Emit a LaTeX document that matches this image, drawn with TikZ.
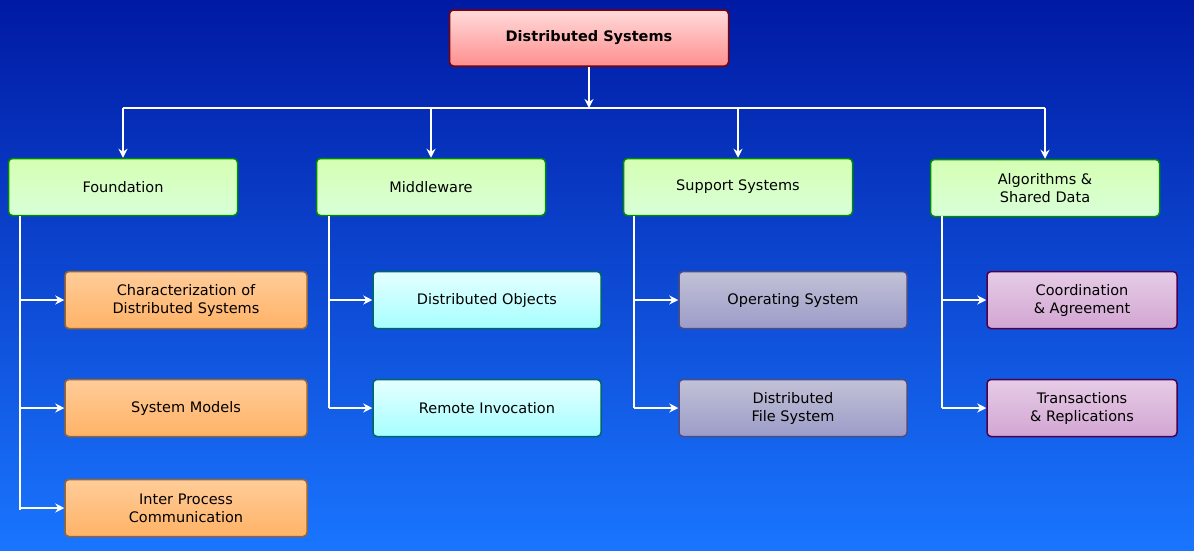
\documentclass[tikz,border=0pt]{standalone}
\usepackage{fontspec}
\setmainfont{DejaVu Sans}
\usetikzlibrary{arrows.meta}
\begin{document}
\begin{tikzpicture}[x=1pt,y=-1pt,
 box/.style={draw,line width=1.5pt,rounded corners=4pt,minimum width=#1,align=center,font=\fontsize{14.5}{18}\selectfont,inner sep=2pt},
 top/.style={box=279pt,minimum height=56pt,top color=pink!70!red!30,bottom color=red!40!pink!80,draw=red!50!black,font=\bfseries\fontsize{14.5}{18}\selectfont},
 grn/.style={box=229pt,minimum height=57pt,top color=green!40!lime!30,bottom color=green!15!white,draw=green!55!black},
 org/.style={box=242pt,minimum height=57pt,top color=orange!40!white,bottom color=orange!60!white,draw=brown!80!black},
 cyn/.style={box=228pt,minimum height=57pt,top color=cyan!10!white,bottom color=cyan!35!white,draw=teal!80!black},
 stl/.style={box=228pt,minimum height=57pt,top color=blue!20!gray!40,bottom color=blue!30!gray!60,draw=blue!30!black!70},
 pur/.style={box=190pt,minimum height=57pt,top color=violet!20!white,bottom color=violet!35!white,draw=violet!60!black},
 ln/.style={draw=white,line width=1.5pt},
 ar/.style={ln,-{Stealth[length=9pt,width=9pt]}}]
\shade[top color=blue!60!black!90!cyan,bottom color=blue!60!cyan!90] (0,0) rectangle (1194,550);
\useasboundingbox (0,0) rectangle (1194,550);
\node[top] (ds) at (589,38) {Distributed Systems};
\node[grn] (f) at (123,187) {Foundation};
\node[grn] (m) at (431,187) {Middleware};
\node[grn] (s) at (738,187) {Support Systems};
\node[grn] (a) at (1045,188) {Algorithms \&\\Shared Data};
\node[org] (f1) at (186,300) {Characterization of\\Distributed Systems};
\node[org] (f2) at (186,408) {System Models};
\node[org] (f3) at (186,508) {Inter Process\\Communication};
\node[cyn] (m1) at (487,300) {Distributed Objects};
\node[cyn] (m2) at (487,408) {Remote Invocation};
\node[stl] (s1) at (793,300) {Operating System};
\node[stl] (s2) at (793,408) {Distributed\\File System};
\node[pur] (a1) at (1082,300) {Coordination\\\& Agreement};
\node[pur] (a2) at (1082,408) {Transactions\\\& Replications};
\coordinate (j) at (589,108);
\draw[ar] (ds.south) -- (j);
\draw[ln] (123,108) -- (1045,108);
\foreach \n/\x in {f/123,m/431,s/738,a/1045} \draw[ar] (\x,108) -- (\n.north);
\draw[ln] (20,216) -- (20,510);
\foreach \n in {f1,f2,f3} \draw[ar] (20,0 |- \n.west) -- (\n.west);
\draw[ln] (329,216) -- (329,408);
\foreach \n in {m1,m2} \draw[ar] (329,0 |- \n.west) -- (\n.west);
\draw[ln] (634,216) -- (634,408);
\foreach \n in {s1,s2} \draw[ar] (634,0 |- \n.west) -- (\n.west);
\draw[ln] (942,216) -- (942,408);
\foreach \n in {a1,a2} \draw[ar] (942,0 |- \n.west) -- (\n.west);
\end{tikzpicture}
\end{document}
